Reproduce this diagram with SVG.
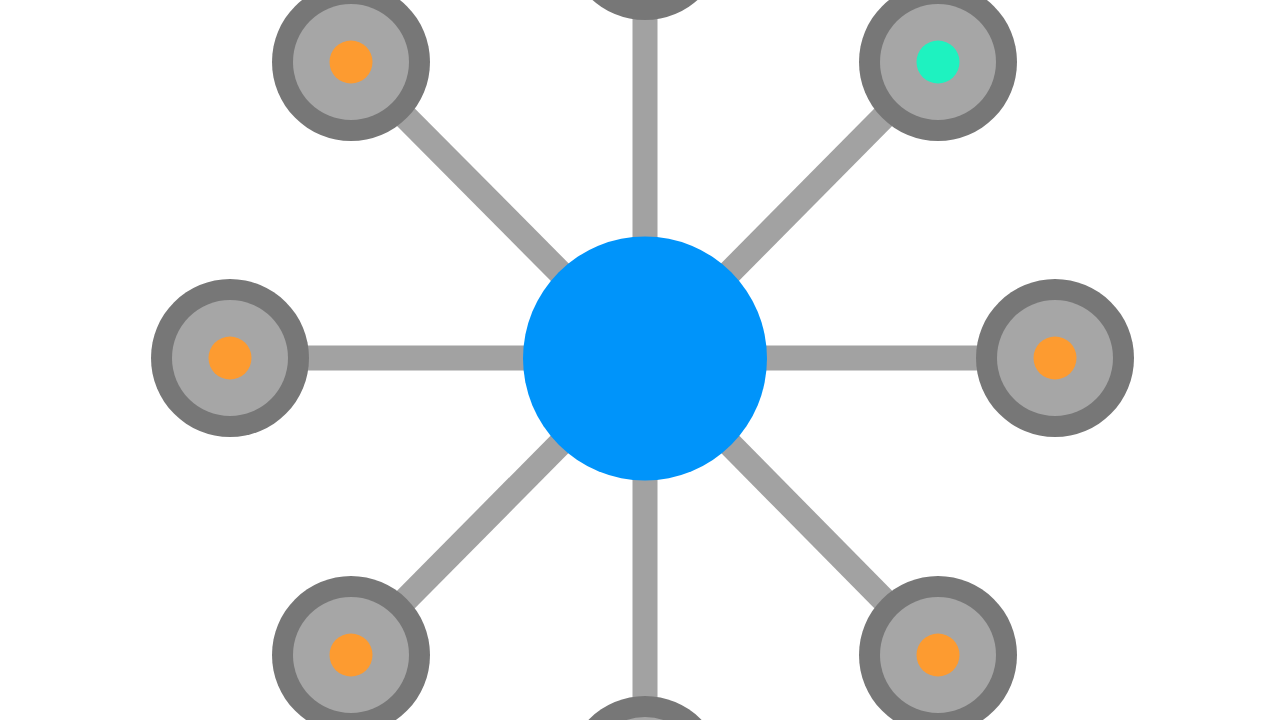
<svg xmlns="http://www.w3.org/2000/svg" width="1280" height="720" viewBox="0 0 1280 720">
<style>
.spoke{stroke:#a2a2a2;stroke-width:25;fill:none}
.outer{fill:#777777}
.inner{fill:#a6a6a6}
.dot{fill:#fd9b30}
.dot2{fill:#1ef2c0}
.hub{fill:#0094fa}
</style>
<rect width="1280" height="720" fill="#ffffff"/>
<g id="connectors">
<line class="spoke" x1="645" y1="358" x2="645" y2="-59"/>
<line class="spoke" x1="645" y1="358" x2="645" y2="775"/>
<line class="spoke" x1="645" y1="358" x2="230" y2="358"/>
<line class="spoke" x1="645" y1="358" x2="1055" y2="358"/>
<line class="spoke" x1="645" y1="358" x2="351" y2="62"/>
<line class="spoke" x1="645" y1="358" x2="938" y2="62"/>
<line class="spoke" x1="645" y1="358" x2="351" y2="655"/>
<line class="spoke" x1="645" y1="358" x2="938" y2="655"/>
</g>
<g id="node-top"><circle class="outer" cx="645" cy="-59" r="79"/><circle class="inner" cx="645" cy="-59" r="58"/></g>
<g id="node-bottom"><circle class="outer" cx="645" cy="775" r="79"/><circle class="inner" cx="645" cy="775" r="58"/></g>
<g id="node-left"><circle class="outer" cx="230" cy="358" r="79"/><circle class="inner" cx="230" cy="358" r="58"/><circle class="dot" cx="230" cy="358" r="21.5"/></g>
<g id="node-right"><circle class="outer" cx="1055" cy="358" r="79"/><circle class="inner" cx="1055" cy="358" r="58"/><circle class="dot" cx="1055" cy="358" r="21.5"/></g>
<g id="node-top-left"><circle class="outer" cx="351" cy="62" r="79"/><circle class="inner" cx="351" cy="62" r="58"/><circle class="dot" cx="351" cy="62" r="21.5"/></g>
<g id="node-top-right"><circle class="outer" cx="938" cy="62" r="79"/><circle class="inner" cx="938" cy="62" r="58"/><circle class="dot2" cx="938" cy="62" r="21.5"/></g>
<g id="node-bottom-left"><circle class="outer" cx="351" cy="655" r="79"/><circle class="inner" cx="351" cy="655" r="58"/><circle class="dot" cx="351" cy="655" r="21.5"/></g>
<g id="node-bottom-right"><circle class="outer" cx="938" cy="655" r="79"/><circle class="inner" cx="938" cy="655" r="58"/><circle class="dot" cx="938" cy="655" r="21.5"/></g>
<g id="hub"><circle class="hub" cx="645" cy="358.5" r="122"/></g>
</svg>
